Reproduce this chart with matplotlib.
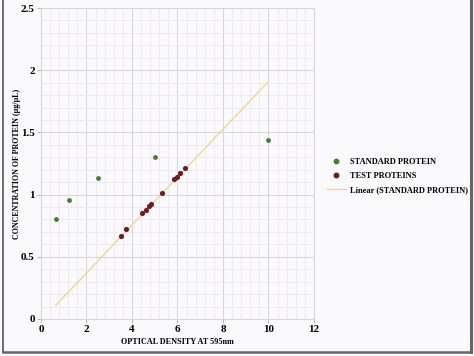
import matplotlib
matplotlib.use("Agg")
import matplotlib.pyplot as plt
from matplotlib.lines import Line2D
import numpy as np

# Data
std_x = [0.65, 1.25, 2.5, 5.0, 10.0]
std_y = [0.80, 0.96, 1.13, 1.30, 1.44]

test_x = [3.5, 3.75, 4.45, 4.6, 4.75, 4.83, 5.3, 5.85, 5.97, 6.1, 6.33]
test_y = [0.665, 0.72, 0.855, 0.88, 0.912, 0.925, 1.015, 1.123, 1.145, 1.17, 1.215]

trend_x = [0.65, 10.0]
trend_y = [0.11, 1.91]

x_ticks = [0, 2, 4, 6, 8, 10, 12]
y_ticks = [0, 0.5, 1, 1.5, 2, 2.5]
y_tick_labels = ["0", "0.5", "1", "1.5", "2", "2.5"]

plt.rcParams['font.family'] = ['Liberation Serif', 'DejaVu Serif']

bg = "#faf9fb"
fig = plt.figure(figsize=(4.74, 3.56), dpi=100, facecolor=bg)
ax = fig.add_axes([41/474, 1-319/356, (314-41)/474, (319-8)/356])
ax.set_facecolor(bg)

ax.set_xlim(0, 12)
ax.set_ylim(0, 2.5)
ax.set_xticks(x_ticks)
ax.set_yticks(y_ticks)
ax.set_yticklabels(y_tick_labels)
ax.set_xticks(np.arange(0, 12.01, 0.4), minor=True)
ax.set_yticks(np.arange(0, 2.501, 0.1), minor=True)
ax.grid(which="minor", color="#efe6ee", linewidth=0.6)
ax.grid(which="major", color="#d8d6d8", linewidth=0.8)
ax.set_axisbelow(True)
for s in ax.spines.values():
    s.set_color("#d8d6d8")
    s.set_linewidth(0.8)
ax.tick_params(which="major", length=3, color="#bbbbbb", labelsize=8, pad=1.5)
ax.tick_params(which="minor", length=0)
for lab in ax.get_xticklabels() + ax.get_yticklabels():
    lab.set_fontweight("bold")

ax.plot(trend_x, trend_y, color="#e8d99a", linewidth=1.0, zorder=2)
ax.scatter(std_x, std_y, s=12, color="#4d7a2f", zorder=3, linewidths=0)
ax.scatter(test_x, test_y, s=14, color="#6e1c24", zorder=3, linewidths=0)

ax.set_xlabel("OPTICAL DENSITY AT 595nm", fontsize=5.9, fontweight="bold", labelpad=3)
ax.set_ylabel("CONCENTRATION OF PROTEIN (µg/µL)", fontsize=5.8, fontweight="bold")
ax.yaxis.set_label_coords(-0.073, 0.5)

handles = [
    Line2D([], [], marker="o", linestyle="none", markersize=3.2, color="#4d7a2f"),
    Line2D([], [], marker="o", linestyle="none", markersize=3.2, color="#6e1c24"),
    Line2D([], [], color="#e8d99a", linewidth=1.0),
]
labels = ["STANDARD PROTEIN", "TEST PROTEINS", "Linear (STANDARD PROTEIN)"]
fig.legend(handles, labels, loc="center left", bbox_to_anchor=(323/474, 1-176/356),
           frameon=False, prop={"size": 6.0, "weight": "bold"},
           handlelength=2.2, handletextpad=0.5, labelspacing=0.75, borderpad=0)

# outer frame
fig.add_artist(Line2D([3/474, 3/474], [1-352/356, 1], color="#555555", linewidth=1.2,
                      transform=fig.transFigure))
fig.add_artist(Line2D([471/474, 471/474], [1-352/356, 1], color="#666666", linewidth=2.2,
                      transform=fig.transFigure))
fig.add_artist(Line2D([3/474, 471/474], [1-352/356, 1-352/356], color="#666666", linewidth=1.8,
                      transform=fig.transFigure))

fig.savefig("out.png", dpi=100, facecolor=bg)
